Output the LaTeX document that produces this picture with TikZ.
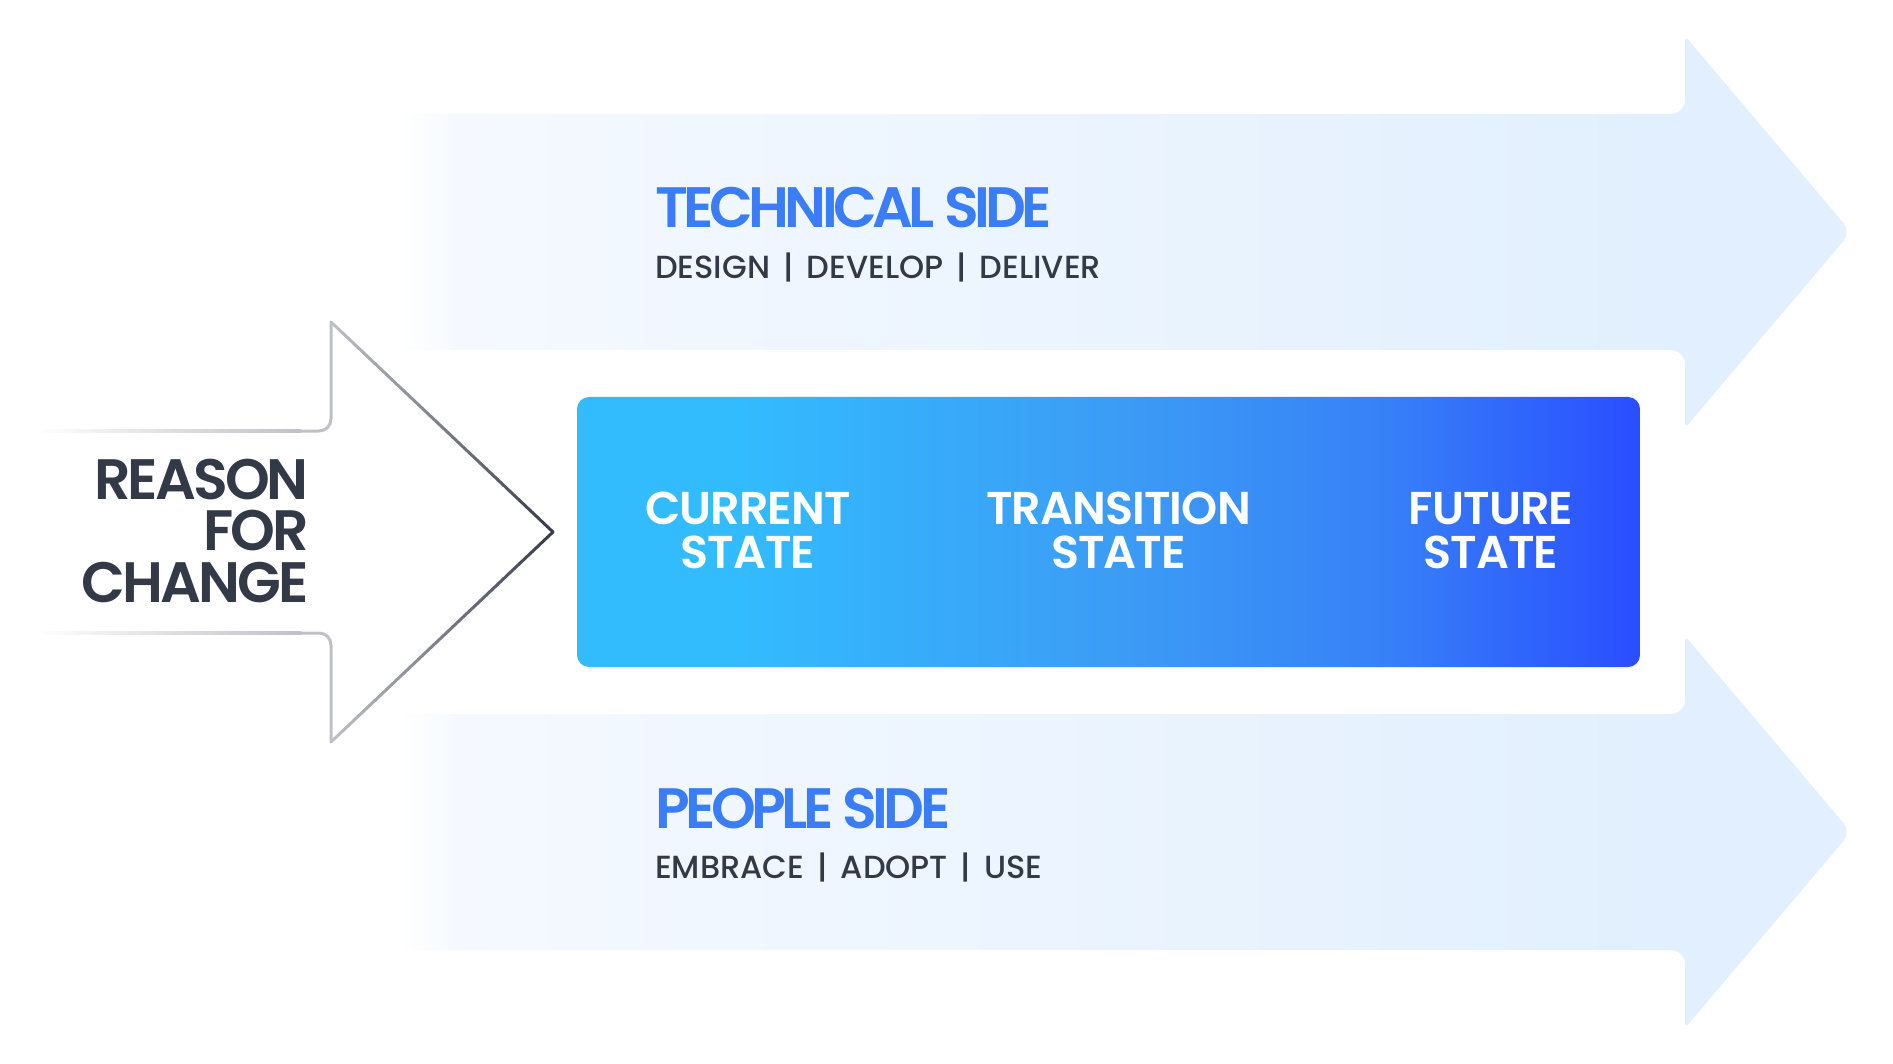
\documentclass[tikz,border=0pt]{standalone}
\usepackage{fontspec}
\setmainfont{Poppins}
\newfontfamily\popsb{Poppins SemiBold}[LetterSpace=-2]
\newfontfamily\popsbhead{Poppins SemiBold}[LetterSpace=-8]
\newfontfamily\popsbreason{Poppins SemiBold}[LetterSpace=-5]
\newfontfamily\popmed{Poppins Medium}
\definecolor{arrowblue}{HTML}{E1EFFE}
\definecolor{arrowpale}{HTML}{F5F9FF}
\definecolor{headblue}{HTML}{3B7CF7}
\definecolor{ink}{HTML}{333A47}
\definecolor{olight}{HTML}{BEC1C7}
\definecolor{odark}{HTML}{343A46}
\definecolor{boxA}{HTML}{32BCFE}
\definecolor{boxB}{HTML}{3C9CF5}
\definecolor{boxC}{HTML}{3781F7}
\definecolor{boxD}{HTML}{2A4DFF}
\pgfdeclarehorizontalshading{boxshade}{100bp}{color(0bp)=(boxA); color(25bp)=(boxA); color(32bp)=(boxA); color(50.5bp)=(boxB); color(63bp)=(boxC); color(75bp)=(boxD); color(100bp)=(boxD)}
\newcommand\sepbar{\hspace{13pt}|\hspace{13pt}}
\tikzset{
  headtext/.style={anchor=base west, inner sep=0pt, text=headblue, font=\popsbhead\fontsize{57}{57}\selectfont},
  subtext/.style={anchor=base west, inner sep=0pt, text=ink, font=\popmed\fontsize{32}{32}\selectfont},
  statetext/.style={anchor=base, inner sep=0pt, align=center, text=white, font=\popsb\fontsize{46}{44}\selectfont},
  reasontext/.style={anchor=base east, inner sep=0pt, align=right, text=ink, font=\popsbreason\fontsize{57}{51.5}\selectfont},
  statebox/.style={shading=boxshade, rounded corners=12pt, minimum width=1063pt, minimum height=270pt, inner sep=0pt, draw=none},
}
\newcommand\bigarrowpath{(400,114) [rounded corners=14] -- (1685,114) [rounded corners=5] -- (1685,36) [rounded corners=12] -- (1851,232) [rounded corners=5] -- (1685,428) [rounded corners=14] -- (1685,350) [sharp corners] -- (400,350) -- cycle}
\begin{document}
\begin{tikzpicture}[x=1pt,y=-1pt]
\useasboundingbox (0,0) rectangle (1893,1064);
\fill[white] (0,0) rectangle (1893,1064);
% big pale arrows
\foreach \dy in {0,600}{
\begin{scope}[shift={(0,\dy)}]
  \clip \bigarrowpath;
  \shade[left color=white, right color=arrowpale] (400,30) rectangle (456,440);
  \shade[left color=arrowpale, right color=arrowblue] (456,30) rectangle (1690,440);
  \fill[arrowblue] (1689,30) rectangle (1860,440);
\end{scope}
}
% outline arrow (reason for change)
\shade[left color=white, right color=olight] (36,429.5) rectangle (301,432.5);
\shade[left color=white, right color=olight] (36,631.5) rectangle (301,634.5);
\draw[olight, line width=3pt, rounded corners=12] (300,431) -- (331,431) -- (331,322);
\draw[olight, line width=3pt, rounded corners=12] (300,633) -- (331,633) -- (331,742);
\foreach \i in {0,...,39}{
  \pgfmathsetmacro\ta{\i/40}
  \pgfmathsetmacro\tb{(\i+1)/40}
  \pgfmathsetmacro\mix{100-\i*2.5}
  \draw[olight!\mix!odark, line width=3pt, line cap=round]
    ({331+222*\ta},{322+210*\ta}) -- ({331+222*\tb},{322+210*\tb});
  \draw[olight!\mix!odark, line width=3pt, line cap=round]
    ({331+222*\ta},{742-210*\ta}) -- ({331+222*\tb},{742-210*\tb});
}
% central gradient box
\node[statebox] (box) at (1108.5,532) {};
\node[statetext] (current) at (748,568) {CURRENT\\STATE};
\node[statetext] (transition) at (1118.5,568) {TRANSITION\\STATE};
\node[statetext] (future) at (1491,568) {FUTURE\\STATE};
% side labels
\node[headtext] (techtitle) at (655,228) {TECHNICAL SIDE};
\node[subtext] (techsub) at (655,279) {DESIGN\sepbar DEVELOP\sepbar DELIVER};
\node[headtext] (peopletitle) at (655,828) {PEOPLE SIDE};
\node[subtext] (peoplesub) at (655,878) {EMBRACE\sepbar ADOPT\sepbar USE};
\node[reasontext] (reason) at (309,602) {REASON\\FOR\\CHANGE};
\end{tikzpicture}
\end{document}
